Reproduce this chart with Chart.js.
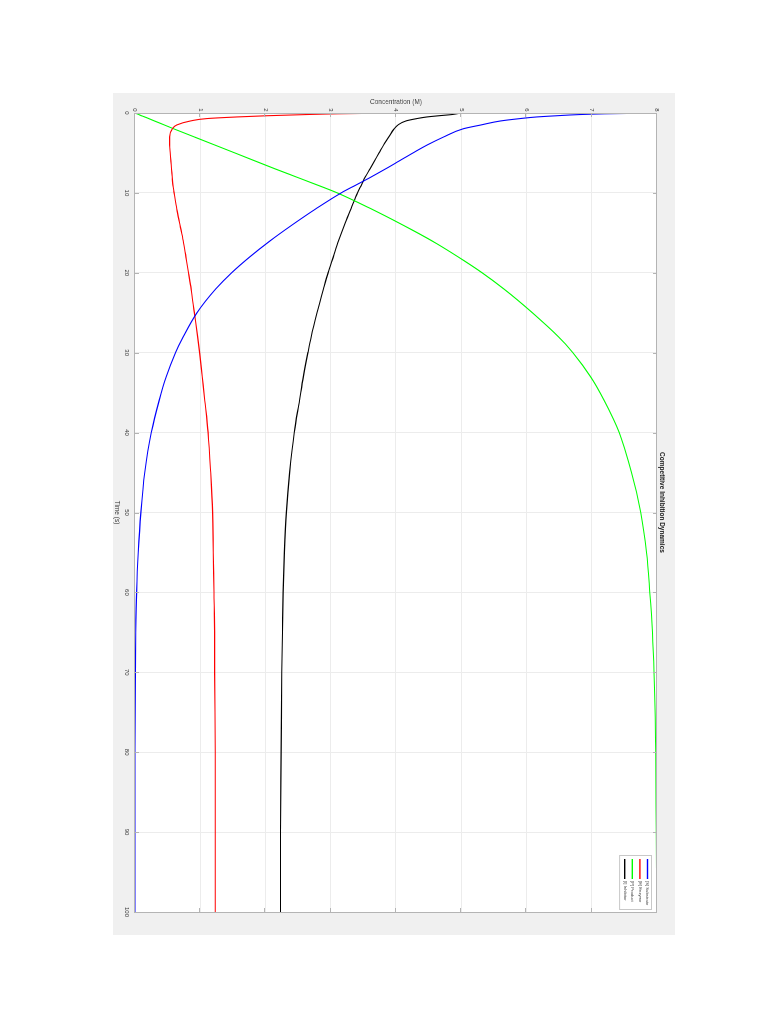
<!DOCTYPE html>
<html>
<head>
<meta charset="utf-8">
<title>Competitive Inhibition Dynamics</title>
<script src="https://cdn.jsdelivr.net/npm/chart.js@4.4.1/dist/chart.umd.min.js"></script>
<style>
    html, body { margin: 0; padding: 0; background: #ffffff; }
    /* figure is rotated 90deg clockwise, like the exported page */
    #figure {
        position: absolute;
        left: 675px;
        top: 93px;
        width: 842px;
        height: 562px;
        transform-origin: 0 0;
        transform: rotate(90deg);
    }
    #chart { display: block; width: 842px; height: 562px; }
</style>
</head>
<body>
<div id="figure"><canvas id="chart" width="842" height="562"></canvas></div>
<script>
// ── Data ──
const timePoints = [0, 0.1, 0.2, 0.35, 0.5, 0.7, 1, 1.5, 2, 3, 4, 5, 6, 7, 8, 9, 10, 12, 14, 16, 18, 20, 22, 25, 28, 30, 33, 36, 40, 45, 50, 55, 60, 65, 70, 80, 90, 100];

const substrate = [8, 7.2, 6.8, 6.45, 6.15, 5.9, 5.6, 5.3, 5.02, 4.73, 4.48, 4.26, 4.05, 3.84, 3.62, 3.39, 3.16, 2.77, 2.41, 2.07, 1.76, 1.48, 1.24, 0.95, 0.74, 0.62, 0.48, 0.37, 0.25, 0.15, 0.09, 0.05, 0.025, 0.012, 0.005, 0, 0, 0];
const enzyme    = [4, 3.1, 2.6, 2.0, 1.55, 1.1, 0.85, 0.64, 0.57, 0.53, 0.53, 0.54, 0.55, 0.56, 0.57, 0.58, 0.6, 0.64, 0.69, 0.74, 0.78, 0.82, 0.86, 0.91, 0.96, 0.99, 1.03, 1.07, 1.12, 1.16, 1.19, 1.2, 1.21, 1.22, 1.22, 1.23, 1.23, 1.23];
const product   = [0, 0.03, 0.06, 0.1, 0.15, 0.21, 0.3, 0.45, 0.6, 0.91, 1.22, 1.53, 1.84, 2.15, 2.47, 2.79, 3.1, 3.62, 4.1, 4.55, 4.95, 5.32, 5.65, 6.09, 6.49, 6.71, 6.98, 7.19, 7.42, 7.61, 7.75, 7.84, 7.89, 7.93, 7.955, 7.98, 7.99, 8];
const inhibitor = [5, 4.93, 4.85, 4.65, 4.47, 4.32, 4.15, 4.03, 3.97, 3.89, 3.81, 3.74, 3.67, 3.6, 3.53, 3.47, 3.41, 3.31, 3.21, 3.12, 3.04, 2.96, 2.89, 2.79, 2.7, 2.65, 2.58, 2.52, 2.44, 2.37, 2.32, 2.29, 2.27, 2.26, 2.25, 2.24, 2.23, 2.23];

const seriesLabels = ['[S] Substrate', '[E] Enzyme', '[P] Product', '[I] Inhibitor'];
const seriesColors = ['#0000ff', '#ff0000', '#00ff00', '#000000'];
const seriesValues = [substrate, enzyme, product, inhibitor];

const timeTicks = [0, 10, 20, 30, 40, 50, 60, 70, 80, 90, 100];
const concTicks = [0, 1, 2, 3, 4, 5, 6, 7, 8];

const FONT = "'Liberation Sans', Arial, Helvetica, sans-serif";
const TEXT = '#404040';

// ── Figure background + white axes ──
const backgroundPlugin = {
    id: 'background',
    beforeDraw(chart) {
        const { ctx, chartArea: a } = chart;
        ctx.save();
        ctx.fillStyle = '#f0f0f0';
        ctx.fillRect(0, 0, chart.width, chart.height);
        ctx.fillStyle = '#ffffff';
        ctx.fillRect(a.left, a.top, a.right - a.left, a.bottom - a.top);
        ctx.restore();
    }
};

// ── Box + inward tick marks (MATLAB style) ──
const boxPlugin = {
    id: 'box',
    afterDraw(chart) {
        const { ctx, chartArea: a, scales } = chart;
        const len = 4;
        ctx.save();
        ctx.strokeStyle = '#b4b4b4';
        ctx.lineWidth = 1;
        ctx.beginPath();
        timeTicks.forEach(t => {
            const x = Math.round(scales.x.getPixelForValue(t)) + 0.5;
            ctx.moveTo(x, a.bottom); ctx.lineTo(x, a.bottom - len);
            ctx.moveTo(x, a.top); ctx.lineTo(x, a.top + len);
        });
        concTicks.forEach(c => {
            const y = Math.round(scales.y.getPixelForValue(c)) + 0.5;
            ctx.moveTo(a.left, y); ctx.lineTo(a.left + len, y);
            ctx.moveTo(a.right, y); ctx.lineTo(a.right - len, y);
        });
        ctx.stroke();
        ctx.strokeRect(Math.round(a.left) + 0.5, Math.round(a.top) + 0.5,
            Math.round(a.right - a.left), Math.round(a.bottom - a.top));
        ctx.restore();
    }
};

// ── Legend box in the north-east corner ──
const legendBoxPlugin = {
    id: 'legendBox',
    afterDraw(chart) {
        const { ctx, chartArea: a } = chart;
        const ds = chart.data.datasets;
        const w = 54, rowH = 7.6;
        const h = ds.length * rowH + 1.5;
        const x0 = a.right - 3 - w, y0 = a.top + 5;
        ctx.save();
        ctx.fillStyle = '#ffffff';
        ctx.fillRect(x0, y0, w, h);
        ctx.strokeStyle = '#c8c8c8';
        ctx.lineWidth = 1;
        ctx.strokeRect(Math.round(x0) + 0.5, Math.round(y0) + 0.5, w, h);
        ctx.font = '4.2px ' + FONT;
        ctx.textBaseline = 'middle';
        ctx.fillStyle = TEXT;
        ds.forEach((d, i) => {
            const y = y0 + 4.5 + i * rowH;
            ctx.strokeStyle = d.borderColor;
            ctx.lineWidth = 1.4;
            ctx.beginPath();
            ctx.moveTo(x0 + 4, y);
            ctx.lineTo(x0 + 24, y);
            ctx.stroke();
            ctx.fillText(d.label, x0 + 26, y);
        });
        ctx.restore();
    }
};

// ── Chart ──
const datasets = seriesLabels.map((label, i) => ({
    label: label,
    data: timePoints.map((t, k) => ({ x: t, y: seriesValues[i][k] })),
    borderColor: seriesColors[i],
    backgroundColor: seriesColors[i],
    borderWidth: 1.1,
    pointRadius: 0,
    fill: false,
    cubicInterpolationMode: 'monotone'
}));

new Chart(document.getElementById('chart'), {
    type: 'line',
    data: { datasets: datasets },
    options: {
        responsive: false,
        animation: false,
        devicePixelRatio: 1,
        layout: { padding: { left: 0, right: 23, top: 0, bottom: 0 } },
        scales: {
            x: {
                type: 'linear',
                min: 0,
                max: 100,
                afterBuildTicks: s => { s.ticks = timeTicks.map(v => ({ value: v })); },
                afterFit: s => { s.height = 22; },
                ticks: { padding: 5, color: TEXT, font: { family: FONT, size: 6 }, maxRotation: 0 },
                grid: { color: '#ececec', drawTicks: false },
                border: { display: false },
                title: { display: true, text: 'Time (s)', color: TEXT, font: { family: FONT, size: 6.5 }, padding: { top: 0, bottom: 0 } }
            },
            y: {
                min: 0,
                max: 8,
                afterBuildTicks: s => { s.ticks = concTicks.map(v => ({ value: v })); },
                afterFit: s => { s.width = 20; },
                ticks: { padding: 1.5, color: TEXT, font: { family: FONT, size: 6 } },
                grid: { color: '#ececec', drawTicks: false },
                border: { display: false },
                title: { display: true, text: 'Concentration (M)', color: TEXT, font: { family: FONT, size: 6.5 }, padding: { top: 5.8, bottom: 0 } }
            }
        },
        plugins: {
            legend: { display: false },
            tooltip: { enabled: false },
            title: {
                display: true,
                text: 'Competitive Inhibition Dynamics',
                color: '#202020',
                font: { family: FONT, size: 6.5, weight: 'bold' },
                padding: { top: 9, bottom: 1.2 }
            }
        }
    },
    plugins: [backgroundPlugin, boxPlugin, legendBoxPlugin]
});
</script>
</body>
</html>
